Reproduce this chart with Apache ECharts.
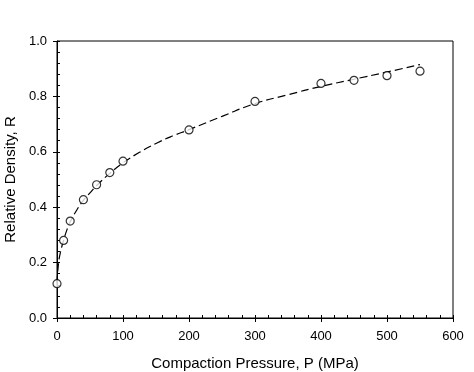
<!DOCTYPE html>
<html>
<head>
<meta charset="utf-8">
<script src="https://cdn.jsdelivr.net/npm/echarts@6/dist/echarts.min.js"></script>
<style>
html,body{margin:0;padding:0;background:#fff;}
#chart{width:474px;height:372px;}
</style>
</head>
<body>
<div id="chart"></div>
<script>
// Measured points
const pressure = [0, 10, 20, 40, 60, 80, 100, 200, 300, 400, 450, 500, 550];
const density = [0.124, 0.280, 0.350, 0.427, 0.481, 0.525, 0.566, 0.679, 0.782, 0.847, 0.858, 0.875, 0.891];
// Fitted dashed curve
const fitPressure = [0, 2, 5, 10, 15, 20, 30, 40, 50, 60, 80, 100, 125, 150, 175, 200, 250, 300, 350, 400, 450, 500, 550];
const fitDensity = [0.125, 0.19, 0.235, 0.28, 0.318, 0.347, 0.39, 0.425, 0.452, 0.478, 0.522, 0.56, 0.598, 0.63, 0.657, 0.68, 0.728, 0.774, 0.806, 0.836, 0.862, 0.888, 0.915];
const xTicks = [0, 100, 200, 300, 400, 500, 600];
const yTicks = [0.0, 0.2, 0.4, 0.6, 0.8, 1.0];

const font = 'Liberation Sans, Arial, sans-serif';
const chart = echarts.init(document.getElementById('chart'));
chart.setOption({
  animation: false,
  backgroundColor: '#fff',
  grid: {left: 57, right: 21, top: 41, bottom: 54, show: true, borderColor: '#000', borderWidth: 1,
         backgroundColor: 'transparent', containLabel: false, outerBoundsMode: 'none'},
  xAxis: [{
    type: 'value', min: xTicks[0], max: xTicks[xTicks.length-1], interval: 100,
    name: 'Compaction Pressure, P (MPa)', nameLocation: 'middle', nameGap: 38,
    nameTextStyle: {fontFamily: font, fontSize: 15, color: '#000'},
    axisLine: {show: true, lineStyle: {color: '#000', width: 1}},
    axisTick: {show: true, inside: false, length: 4, lineStyle: {color: '#000'}},
    axisLabel: {fontFamily: font, fontSize: 13, color: '#000', margin: 12},
    splitLine: {show: false}
  }, {
    type: 'value', min: 0, max: 600, interval: 20, position: 'bottom',
    axisLine: {show: false}, axisLabel: {show: false},
    axisTick: {show: true, inside: true, length: 3, lineStyle: {color: '#000'}},
    splitLine: {show: false}
  }],
  yAxis: [{
    type: 'value', min: yTicks[0], max: yTicks[yTicks.length-1], interval: 0.2,
    name: 'Relative Density, R', nameLocation: 'middle', nameGap: 37,
    nameTextStyle: {fontFamily: font, fontSize: 15, color: '#000'},
    axisLine: {show: true, lineStyle: {color: '#000', width: 1}},
    axisTick: {show: true, inside: false, length: 4, lineStyle: {color: '#000'}},
    axisLabel: {fontFamily: font, fontSize: 13, color: '#000', margin: 10, formatter: v => v.toFixed(1)},
    splitLine: {show: false}
  }, {
    type: 'value', min: 0, max: 1, interval: 0.04, position: 'left',
    axisLine: {show: false}, axisLabel: {show: false},
    axisTick: {show: true, inside: true, length: 3, lineStyle: {color: '#000'}},
    splitLine: {show: false}
  }],
  series: [{
    type: 'line', data: fitPressure.map((p, i) => [p, fitDensity[i]]),
    showSymbol: false, smooth: true, symbol: 'none',
    lineStyle: {color: '#000', width: 1.2, type: [8, 4]}, z: 2
  }, {
    type: 'scatter', data: pressure.map((p, i) => [p, density[i]]),
    symbol: 'circle', symbolSize: 8,
    itemStyle: {color: '#fff', borderColor: '#000', borderWidth: 1.2}, z: 3
  }]
});
</script>
</body>
</html>
